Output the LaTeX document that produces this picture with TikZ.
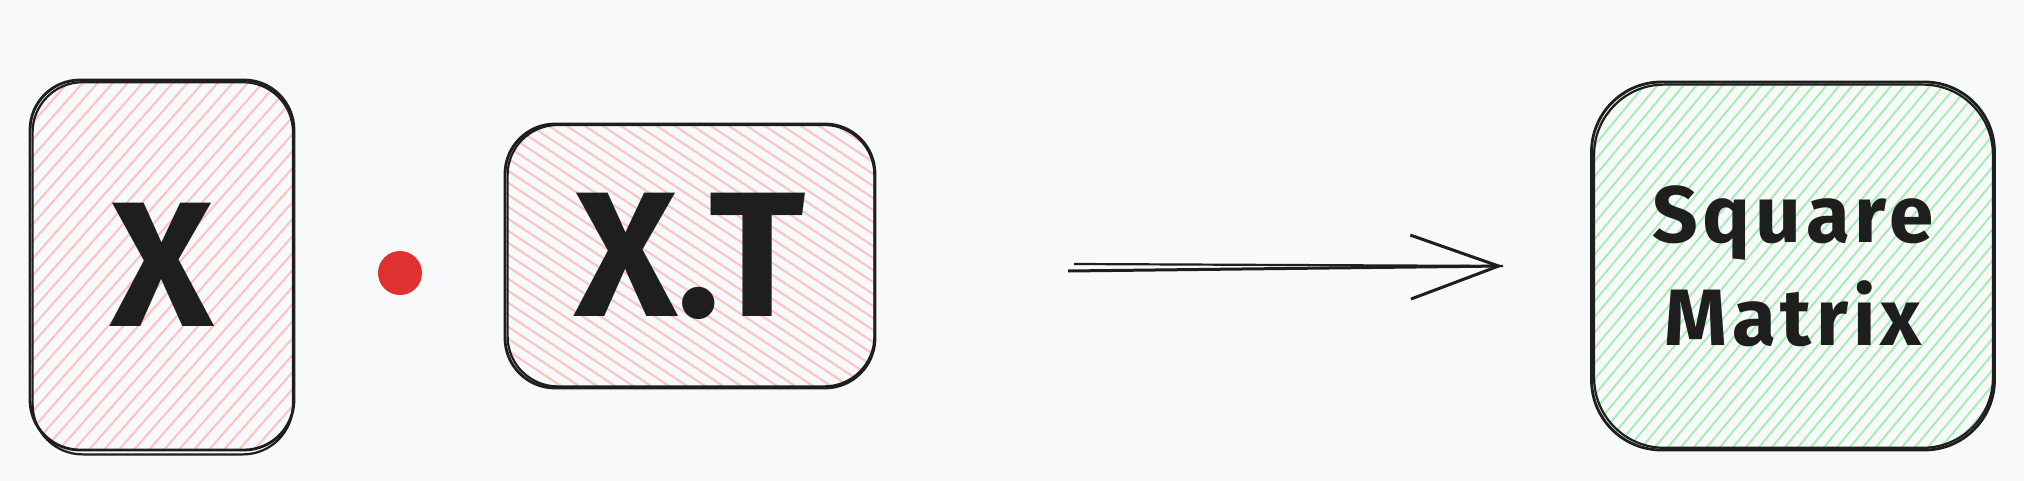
\documentclass[tikz,border=0pt]{standalone}
\usepackage{fontspec}
\setmainfont{Fira Sans}
\usetikzlibrary{arrows.meta}
\definecolor{bgc}{HTML}{F8F9FA}
\definecolor{ink}{HTML}{1E1E1E}
\definecolor{pinkh}{HTML}{FFC2C2}
\definecolor{greenh}{HTML}{A8EEB3}
\definecolor{dotred}{HTML}{E03131}
\begin{document}
\begin{tikzpicture}[x=0.5pt,y=-0.5pt,
  outline/.style={draw=ink, line width=1.4pt},
  box/.style={outline, fill=bgc, inner sep=0pt, text=ink},
  hatchup/.style n args={3}{path picture={\foreach \i in {-60,...,60}{\draw[#1,line width=1pt] ([xshift=\i*#2]path picture bounding box.center) ++(-150pt,-#3) -- ++(300pt,2*#3);}}},
  hatchdown/.style n args={3}{path picture={\foreach \i in {-60,...,60}{\draw[#1,line width=1pt] ([xshift=\i*#2]path picture bounding box.center) ++(-150pt,#3) -- ++(300pt,-2*#3);}}},
  bigfont/.style={font=\fontsize{89}{89}\selectfont\bfseries},
  labfont/.style={font=\fontsize{40}{51.5}\selectfont\bfseries\addfontfeature{LetterSpace=6}}
]
\fill[bgc] (0,0) rectangle (2024,481);
\useasboundingbox (0,0) rectangle (2024,481);

% box X
\node[box, minimum width=132pt, minimum height=185pt, rounded corners=25pt,
  hatchup={pinkh}{7.5pt}{170pt}, bigfont] (x) at (162,265) {X};
\draw[outline, line width=1.1pt, rounded corners=25pt] ([shift={(2pt,-1.5pt)}]x.south west) rectangle ([shift={(-1.2pt,-1.8pt)}]x.north east);

% dot
\node[circle, fill=dotred, minimum size=22pt, inner sep=0pt] (dot) at (400,273) {};

% box X.T
\node[box, minimum width=185pt, minimum height=132pt, rounded corners=25pt,
  hatchdown={pinkh}{9pt}{100pt}, bigfont] (xt) at (690,256) {X.T};
\draw[outline, line width=1.1pt, rounded corners=25pt] ([shift={(2pt,1.5pt)}]xt.south west) rectangle ([shift={(-1pt,-1.2pt)}]xt.north east);

% arrow
\coordinate (a1) at (1068,271);
\coordinate (a2) at (1074,264);
\coordinate (ae) at (1503,266);
\draw[line width=1.5pt, ink, -{Straight Barb[length=44pt,width=32pt]}] (a1) -- (ae);
\draw[line width=1.1pt, ink] (a2) -- (ae);

% box Square Matrix
\node[box, minimum width=201.5pt, minimum height=184pt, rounded corners=35pt,
  hatchup={greenh}{6.5pt}{180pt}, labfont, align=center] (sq) at (1793,266) {Square\\Matrix};
\draw[outline, line width=1.1pt, rounded corners=35pt] ([shift={(2pt,1.8pt)}]sq.south west) rectangle ([shift={(-1.5pt,-2pt)}]sq.north east);
\end{tikzpicture}
\end{document}
